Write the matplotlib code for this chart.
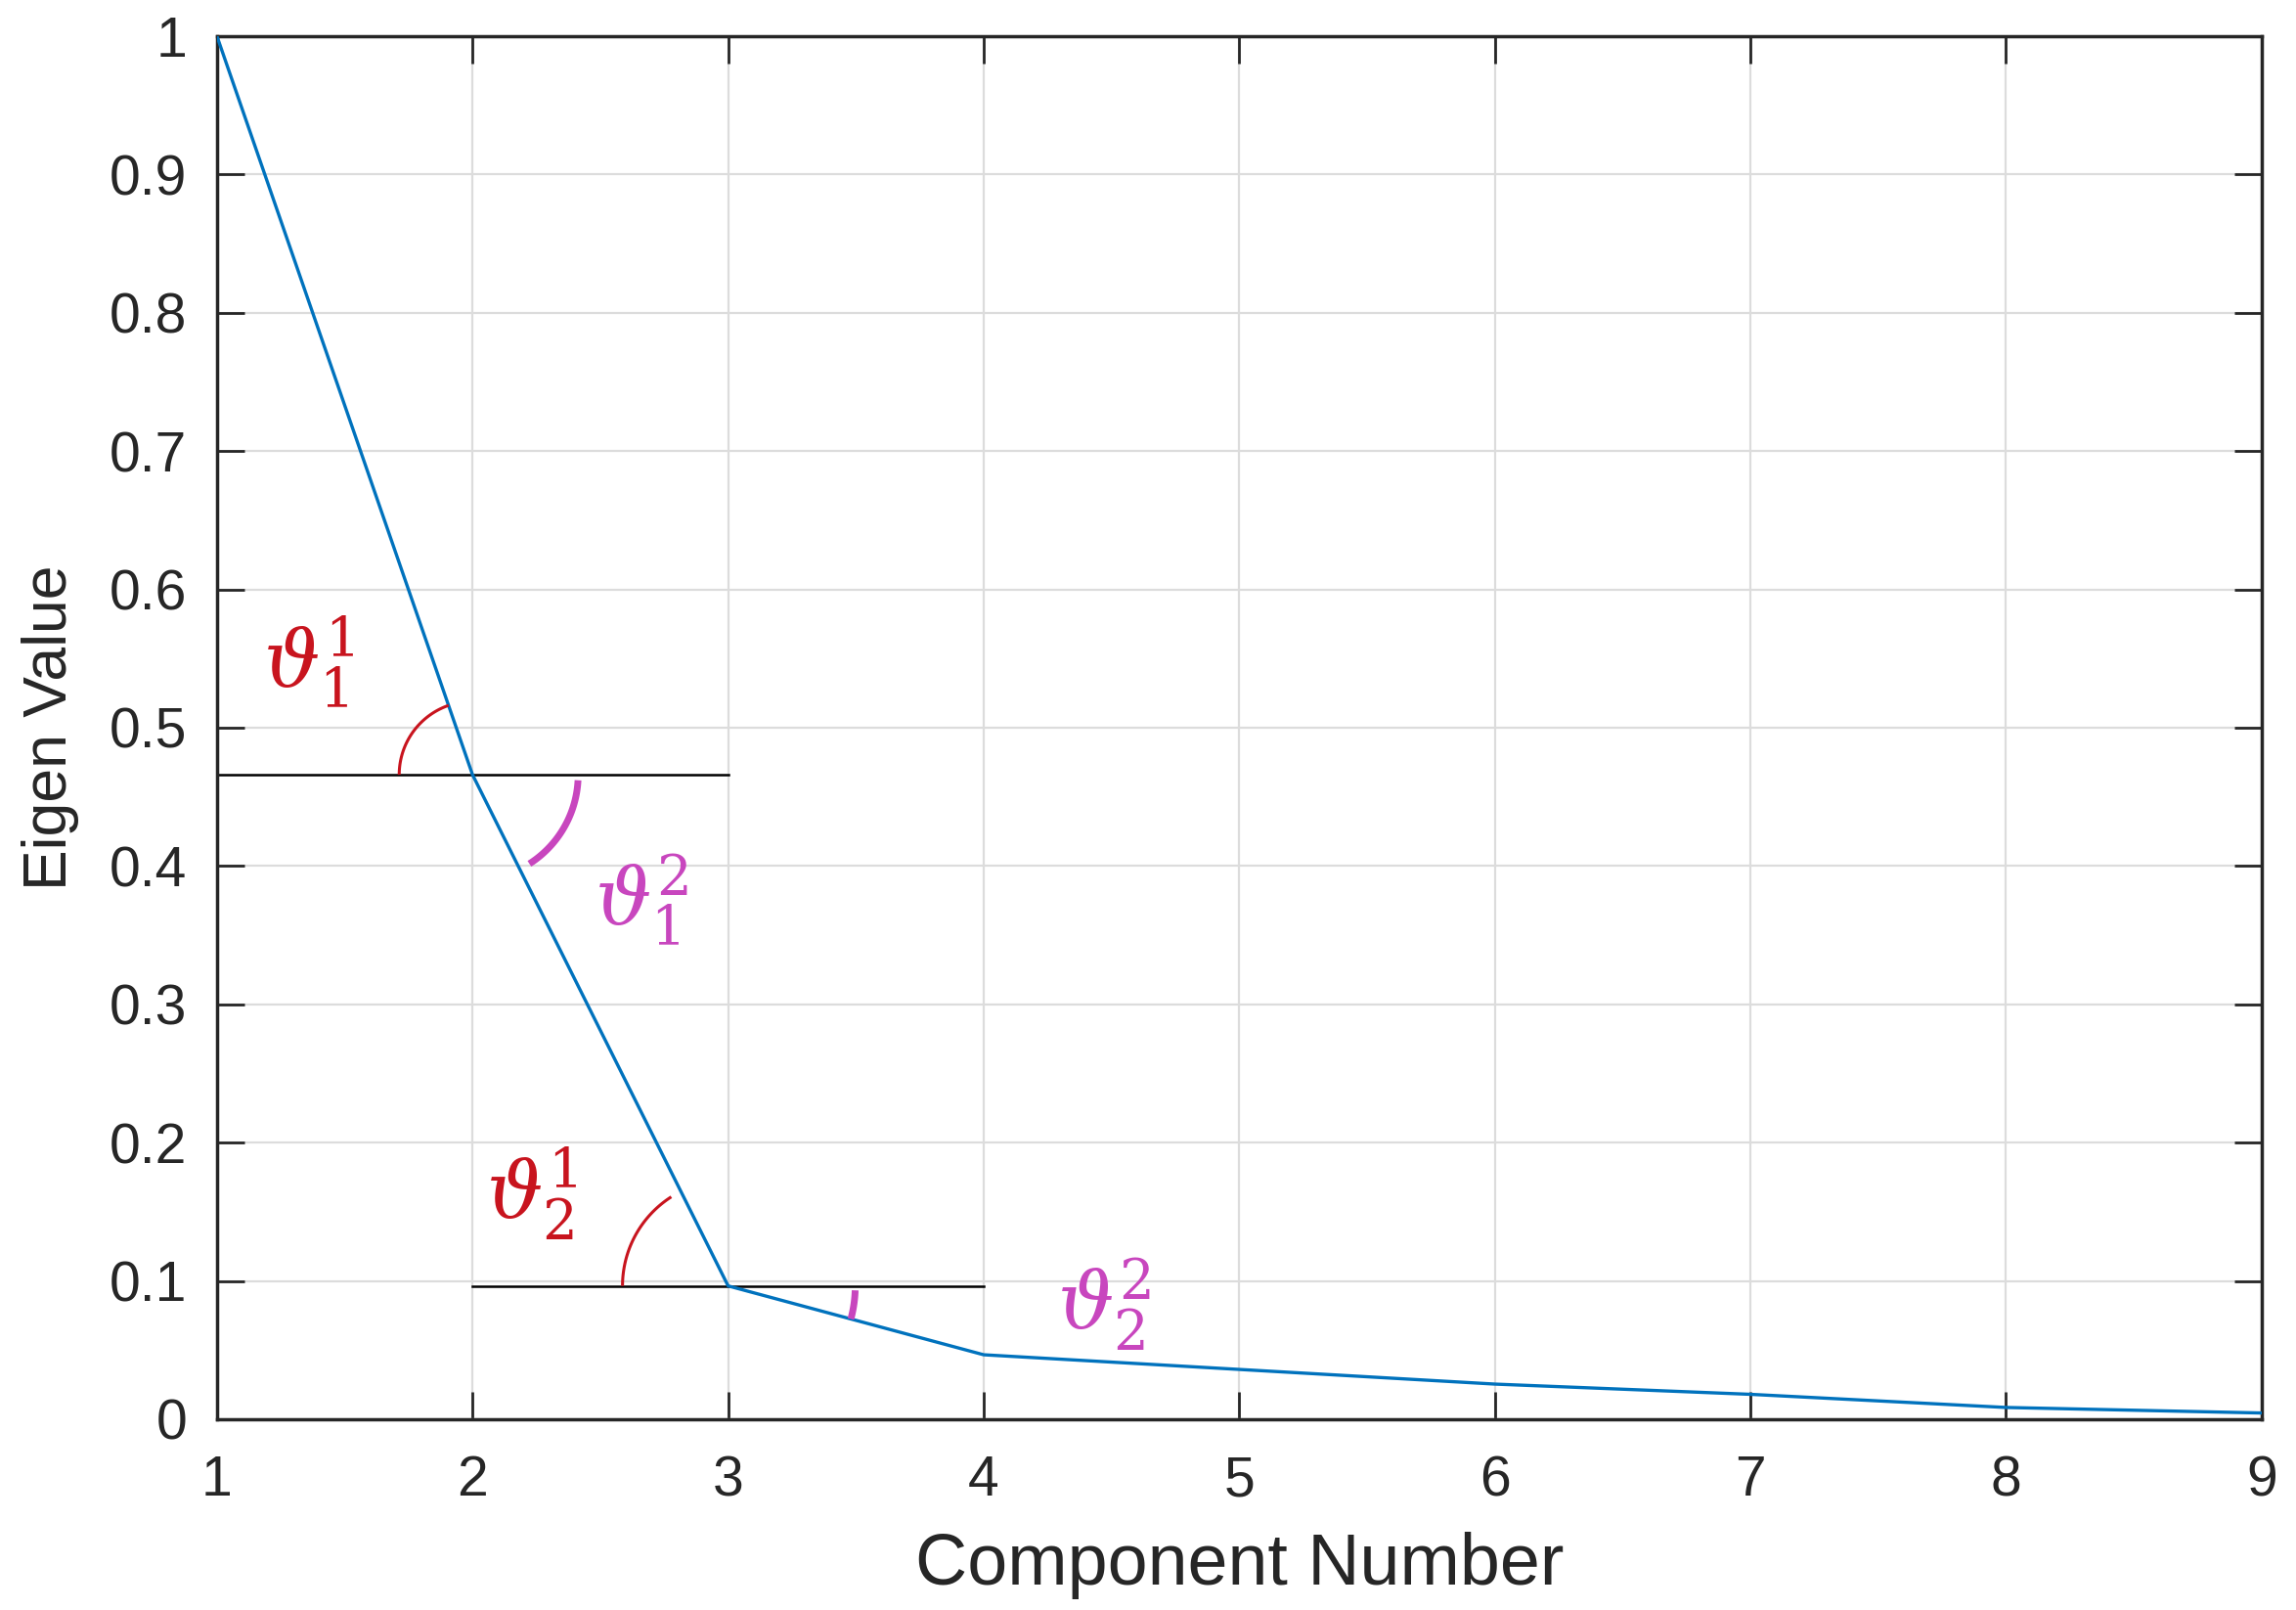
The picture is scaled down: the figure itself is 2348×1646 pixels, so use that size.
import numpy as np
import matplotlib.pyplot as plt

plt.rcParams['mathtext.fontset'] = 'dejavuserif'

# scree plot values
components = [1, 2, 3, 4, 5, 6, 7, 8, 9]
eigen_values = [1.0, 0.466, 0.0964, 0.0466, 0.036, 0.0254, 0.018, 0.0085, 0.0045]
x_ticks = [1, 2, 3, 4, 5, 6, 7, 8, 9]
y_ticks = [0, 0.1, 0.2, 0.3, 0.4, 0.5, 0.6, 0.7, 0.8, 0.9, 1]
y_tick_labels = ['0', '0.1', '0.2', '0.3', '0.4', '0.5', '0.6', '0.7', '0.8', '0.9', '1']

# horizontal reference lines: (x from, x to, at component)
ref_lines = [(1, 3, 2), (2, 4, 3)]

red = '#C8141E'
magenta = '#C846BE'
line_blue = '#0072BD'
dark = '#262626'

fig = plt.figure(figsize=(23.48, 16.46), dpi=100)
ax = fig.add_axes([0.0945, 0.1185, 0.8905, 0.859])

ax.plot(components, eigen_values, color=line_blue, lw=2.4, zorder=3)
for x0, x1, c in ref_lines:
    ax.plot([x0, x1], [eigen_values[c - 1]] * 2, color='black', lw=1.8, zorder=2)

ax.set_xlim(1, 9)
ax.set_ylim(0, 1)
ax.set_xticks(x_ticks)
ax.set_yticks(y_ticks)
ax.set_yticklabels(y_tick_labels)
ax.grid(True, color='#DCDCDC', lw=1.6)
ax.set_axisbelow(True)
ax.tick_params(direction='in', length=20, width=2, top=True, right=True,
               colors=dark)
ax.tick_params(axis='x', pad=26)
ax.tick_params(axis='y', pad=22)
for s in ax.spines.values():
    s.set_linewidth(2.5)
    s.set_color(dark)
for lab in ax.get_xticklabels() + ax.get_yticklabels():
    lab.set_family('Liberation Sans')
    lab.set_fontsize(41)
ax.set_xlabel('Component Number', fontsize=53, family='Liberation Sans',
              color=dark, labelpad=18)
ax.set_ylabel('Eigen Value', fontsize=45, family='Liberation Sans',
              color=dark, labelpad=22)

fig.canvas.draw()


def angle_arc(c, a1, a2, r, color, lw):
    # arc drawn in pixel space around a data point, angles in degrees
    cx, cy = ax.transData.transform((components[c - 1], eigen_values[c - 1]))
    t = np.radians(np.linspace(a1, a2, 60))
    px = np.column_stack([cx + r * np.cos(t), cy + r * np.sin(t)])
    d = ax.transData.inverted().transform(px)
    ax.plot(d[:, 0], d[:, 1], color=color, lw=lw, zorder=4, solid_capstyle='butt')


def seg_angle(c0, c1):
    p0 = ax.transData.transform((components[c0 - 1], eigen_values[c0 - 1]))
    p1 = ax.transData.transform((components[c1 - 1], eigen_values[c1 - 1]))
    return np.degrees(np.arctan2(p1[1] - p0[1], p1[0] - p0[0]))


angle_arc(2, seg_angle(2, 1), 180, 75, red, 2.2)
angle_arc(2, seg_angle(2, 3) + 6, -3, 108, magenta, 5)
angle_arc(3, seg_angle(3, 2) + 6, 180, 108, red, 2.2)
angle_arc(3, seg_angle(3, 4), -2, 130, magenta, 5)

fs_theta = 58
ax.text(1.36, 0.548, r'$\vartheta_1^1$', color=red, fontsize=fs_theta, ha='center', va='center')
ax.text(2.66, 0.376, r'$\vartheta_1^2$', color=magenta, fontsize=fs_theta, ha='center', va='center')
ax.text(2.23, 0.163, r'$\vartheta_2^1$', color=red, fontsize=fs_theta, ha='center', va='center')
ax.text(4.47, 0.083, r'$\vartheta_2^2$', color=magenta, fontsize=fs_theta, ha='center', va='center')

fig.savefig('out.png', dpi=100, facecolor='white')
